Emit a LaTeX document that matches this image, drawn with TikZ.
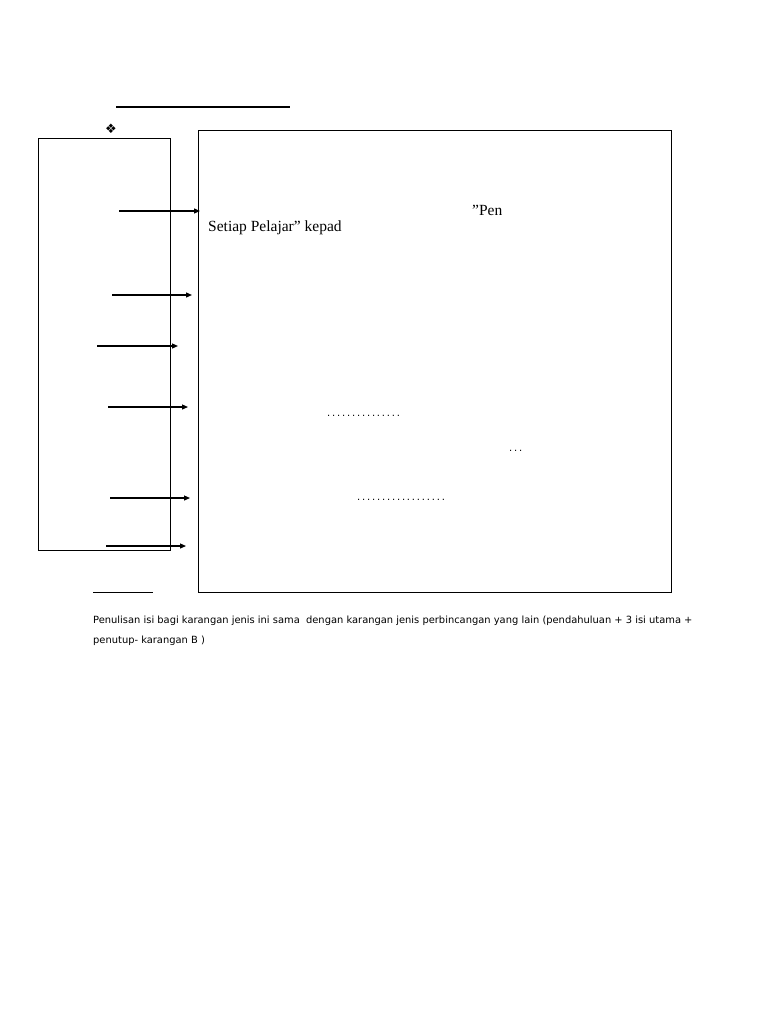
\documentclass[tikz,border=0pt]{standalone}
\usepackage{fontspec}
\setmainfont{Liberation Serif}
\newfontfamily\notefont{DejaVu Sans}
\newfontfamily\dotfont[LetterSpace=18]{DejaVu Sans}
\usetikzlibrary{arrows.meta}
\tikzset{
  pointer/.style={-{Triangle[length=6pt,width=5pt]}, line width=1.2pt},
  frame/.style={draw, line width=1pt},
  dots/.style={font=\dotfont\fontsize{10}{10}\selectfont, inner sep=0pt, anchor=base west},
  note/.style={font=\notefont\fontsize{9.9}{11}\selectfont, inner sep=0pt, anchor=base west}
}
\begin{document}
\begin{tikzpicture}[x=1pt,y=-1pt]
  \useasboundingbox[fill=white] (0,0) rectangle (768,1024);
  % heading rule and bullet
  \draw[line width=1.8pt] (116,107) -- (290,107);
  \node[font=\notefont\fontsize{13}{13}\selectfont, inner sep=0pt] (bullet) at (111,129) {❖};
  % the two boxes
  \draw[frame] (38,139) rectangle (170,550);
  \draw[frame] (198,131) rectangle (671,592);
  % arrows
  \coordinate (s1) at (119,211); \coordinate (e1) at (200,211);
  \coordinate (s2) at (112,295); \coordinate (e2) at (192,295);
  \coordinate (s3) at (97,346);  \coordinate (e3) at (178,346);
  \coordinate (s4) at (108,407); \coordinate (e4) at (188,407);
  \coordinate (s5) at (110,498); \coordinate (e5) at (190,498);
  \coordinate (s6) at (106,546); \coordinate (e6) at (186,546);
  \foreach \i in {1,...,6}
    \draw[pointer] (s\i) -- (e\i);
  % text in the right box
  \node[font=\fontsize{15.5}{17}\selectfont, inner sep=0pt, anchor=base west] (pen) at (472,216) {”Pen};
  \node[font=\fontsize{15.5}{17}\selectfont, inner sep=0pt, anchor=base west] (setiap) at (208,232) {Setiap Pelajar” kepad};
  \node[dots] (dotsA) at (327,416) {...............};
  \node[dots] (dotsB) at (509,451) {...};
  \node[dots] (dotsC) at (357,500) {..................};
  % short rule and note
  \draw[line width=1pt] (93,592) -- (153,592);
  \node[note] (noteA) at (93,623) {Penulisan isi bagi karangan jenis ini sama\ \ dengan karangan jenis perbincangan yang lain (pendahuluan + 3 isi utama +};
  \node[note] (noteB) at (93,643) {penutup- karangan B )};
\end{tikzpicture}
\end{document}
